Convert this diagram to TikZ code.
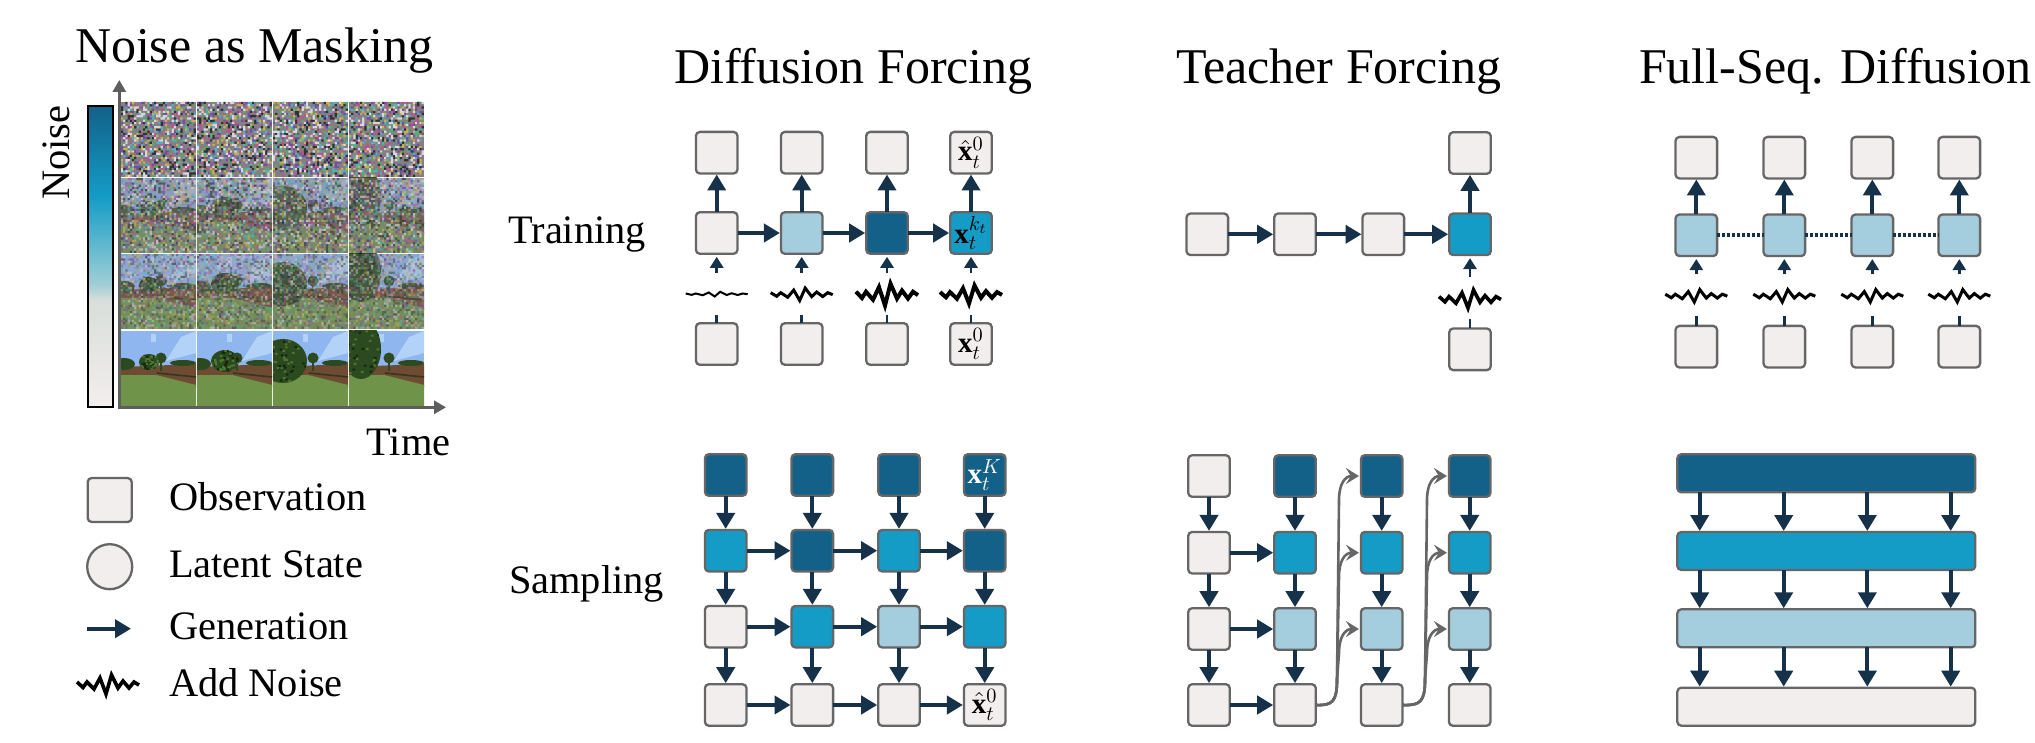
\documentclass[tikz,border=0pt]{standalone}
\usepackage{fix-cm}
\usepackage{fontspec}
\setmainfont{Liberation Serif}
\usetikzlibrary{arrows.meta}
\definecolor{creamfill}{HTML}{F3EEEE}
\definecolor{palefill}{HTML}{A4CDDE}
\definecolor{midfill}{HTML}{149CC6}
\definecolor{deepfill}{HTML}{136188}
\definecolor{navyline}{HTML}{16324B}
\definecolor{greyline}{HTML}{666666}
\definecolor{axisgrey}{HTML}{5E5E5E}
\definecolor{skyblue}{HTML}{8FB6EE}
\definecolor{cloudblue}{HTML}{B3D2F8}
\definecolor{grassgreen}{HTML}{6F9449}
\definecolor{barkbrown}{HTML}{6E4C33}
\definecolor{leafdark}{HTML}{2C4A20}
\definecolor{leaflight}{HTML}{4F7530}
\definecolor{leafblack}{HTML}{16240F}
\definecolor{noisegrey}{HTML}{857F85}
\definecolor{barfadea}{HTML}{D8DEDA}
\definecolor{barfadeb}{HTML}{A0CFD6}
\pgfdeclareverticalshading{noisebar}{100bp}{color(0bp)=(creamfill); color(25bp)=(creamfill);
  color(42.8bp)=(barfadea); color(45.3bp)=(barfadeb); color(59.9bp)=(midfill);
  color(75bp)=(deepfill); color(100bp)=(deepfill)}
\tikzset{
  cell/.style={rectangle,draw=greyline,line width=1.15pt,rounded corners=2pt,minimum size=20.8pt},
  obscell/.style={cell,fill=creamfill},
  palecell/.style={cell,fill=palefill},
  midcell/.style={cell,fill=midfill},
  deepcell/.style={cell,fill=deepfill},
  gen/.style={draw=navyline,line width=2pt,shorten >=0.5pt,-{Triangle[length=8pt,width=9pt]}},
  genthin/.style={draw=navyline,line width=1.4pt,shorten >=1.5pt,-{Triangle[length=5.5pt,width=6.5pt]}},
  genstub/.style={draw=navyline,line width=1.4pt},
  linkdots/.style={draw=navyline,line width=1.8pt,dash pattern=on 1.4pt off 1.1pt},
  hop/.style={draw=greyline,line width=1.3pt,shorten >=1pt,-{Stealth[length=6.5pt,width=8pt,inset=2.5pt]}},
  axis/.style={draw=axisgrey,line width=1.6pt,-{Triangle[length=6pt,width=6.5pt]}},
  noisegap/.style={rectangle,minimum width=31pt,minimum height=21pt},
  heading/.style={anchor=base west,font=\fontsize{25}{28}\selectfont},
  caption/.style={anchor=base west,font=\fontsize{20.2}{22}\selectfont},
  celltext/.style={font=\fontsize{14.5}{16}\selectfont},
}
\newcommand{\noisewig}[5]{
  \path (#2,#3) node[noisegap] (#1) {};
  \path[shift={(#2,#3)},yscale=#4,draw=black,line width=#5,miter limit=6] (-31,-2) -- (-25,3.5) --
    (-21,-2) -- (-14,5) -- (-8,-6) -- (-2,10) -- (3.5,-9) -- (10,4) -- (15,-3) -- (21,4) --
    (26,-2) -- (31,1);
}
\newcommand{\minecell}[6]{
  \begin{scope}[shift={(#1,#2)}]
    \clip (0,0) rectangle (75,75);
    \fill[skyblue] (0,0) rectangle (75,75);
    \fill[cloudblue] (45,30) -- (60,6) -- (75,0) -- (75,22) -- cycle;
    \fill[cloudblue] (30,3) rectangle (35,11);
    \fill[barkbrown] (0,36) -- (75,33) -- (75,56) -- (0,50) -- cycle;
    \draw[leafblack!60!barkbrown,line width=0.8pt] (36,42) -- (75,46);
    \fill[grassgreen] (0,44) -- (35,44) -- (75,54) -- (75,75) -- (0,75) -- cycle;
    \fill[leafdark] (62,32) ellipse [x radius=13,y radius=3];
    \fill[leafdark] (3,33) ellipse [x radius=11,y radius=6];
    \draw[leafdark,line width=0.8pt] (40,30) -- (40,40);
    \fill[leafdark] (40,27) circle [radius=5.5];
    \begin{scope}
      \clip (#3,#4) ellipse [x radius=#5,y radius=#6];
      \fill[leafdark] (-10,-10) rectangle (85,85);
      \foreach \leafc in {leafblack,leaflight}
        \fill[\leafc] \foreach \i in {1,...,30}{ ({#3+#5*rand},{#4+#6*rand}) rectangle +(2.5,2) };
    \end{scope}
  \end{scope}
}
\newcommand{\noisepatch}[4]{
  \fill[noisegrey,fill opacity=#4] (#1,#2) rectangle +(75,75);
  \foreach \nc in {C0508C,5FA860,4FB2BC,C8B050,7050A0,2C3434,DCD4DC}{
    \definecolor{grain}{HTML}{\nc}
    \fill[grain,fill opacity=#3] \foreach \i in {1,...,155}{ ({#1+2.2*random(0,33)},{#2+2.2*random(0,33)}) rectangle +(2.2,2.2) };
  }
}
\begin{document}
\begin{tikzpicture}[y=0.5pt, x=0.5pt, yscale=-1, inner sep=0pt, outer sep=0pt]
  \useasboundingbox[fill=white] (0,0) rectangle (2035,743);
  \pgfmathsetseed{4242}

  \foreach \cc/\tx/\ty/\rx/\ry in {0/28/31/10/8,1/28/30/14/11,2/10/30/24/22,3/12/18/20/30}{
    \pgfmathsetmacro\cellx{121+76*\cc}
    \noisepatch{\cellx}{102}{1}{1}
    \foreach \rr/\nop/\bop in {1/0.62/0.45,2/0.42/0.25}{
      \pgfmathsetmacro\celly{102+76*\rr}
      \minecell{\cellx}{\celly}{\tx}{\ty}{\rx}{\ry}
      \noisepatch{\cellx}{\celly}{\nop}{\bop}
    }
    \minecell{\cellx}{331}{\tx}{\ty}{\rx}{\ry}
  }
  \path[shading=noisebar,draw=black,line width=1pt] (88.3,105.7) rectangle (112.7,407);
  \coordinate (axorig) at (119.3,408);
  \coordinate (axtop) at (119.3,80);
  \coordinate (axleft) at (118,407.3);
  \coordinate (axright) at (446,407.3);
  \draw[axis] (axorig) -- (axtop);
  \draw[axis] (axleft) -- (axright);

  \path (75,62.7) node[heading] (titlemask) {Noise as Masking};
  \path (674,83.3) node[heading] (titledf) {Diffusion Forcing};
  \path (1176,83.3) node[heading] (titletf) {Teacher Forcing};
  \path (1639,83.3) node[heading] (titlefs) {Full-Seq. Diffusion};
  \path (69.3,200) node[caption,rotate=90] (labnoise) {Noise};
  \path (366.7,455) node[caption] (labtime) {Time};
  \path (508.3,243.3) node[caption] (labtrain) {Training};
  \path (509,593.3) node[caption] (labsample) {Sampling};

  \path (109.7,500) node[obscell,minimum size=22pt] (legobs) {};
  \path (109.7,566.7) node[obscell,circle,minimum size=22.5pt] (leglat) {};
  \coordinate (leggena) at (87,628.7);
  \coordinate (leggenb) at (131,628.7);
  \draw[gen,shorten >=0pt] (leggena) -- (leggenb);
  \noisewig{legwig}{108}{684}{1}{1.8pt}
  \path (169,510.7) node[caption] (labobs) {Observation};
  \path (169,577) node[caption] (lablat) {Latent State};
  \path (169,639) node[caption] (labgen) {Generation};
  \path (169,696.7) node[caption] (labadd) {Add Noise};

  \path (716.7,152.7) node[obscell] (dfo1) {};
  \path (801.7,152.7) node[obscell] (dfo2) {};
  \path (887,152.7) node[obscell] (dfo3) {};
  \path (971,152.7) node[obscell,celltext] (dfo4) {$\hat{\mathbf{x}}_t^0$};
  \path (716.7,233) node[obscell] (dfl1) {};
  \path (801.7,233) node[palecell] (dfl2) {};
  \path (887,233) node[deepcell] (dfl3) {};
  \path (971,233) node[midcell,celltext] (dfl4) {$\mathbf{x}_t^{k_t}$};
  \path (716.7,344) node[obscell] (dfb1) {};
  \path (801.7,344) node[obscell] (dfb2) {};
  \path (887,344) node[obscell] (dfb3) {};
  \path (971,344) node[obscell,celltext] (dfb4) {$\mathbf{x}_t^0$};
  \noisewig{dfn1}{716.7}{294}{0.25}{1pt}
  \noisewig{dfn2}{801.7}{294}{0.65}{1.5pt}
  \noisewig{dfn3}{887}{294}{1.15}{2pt}
  \noisewig{dfn4}{971}{294}{0.95}{2pt}
  \foreach \i in {1,...,4}{
    \draw[gen] (dfl\i) -- (dfo\i);
    \draw[genthin] (dfn\i) -- (dfl\i);
    \draw[genstub] (dfb\i) -- (dfn\i);
  }
  \draw[gen] (dfl1) -- (dfl2);
  \draw[gen] (dfl2) -- (dfl3);
  \draw[gen] (dfl3) -- (dfl4);

  \path (1470,153) node[obscell] (tfo4) {};
  \path (1207.3,234.3) node[obscell] (tfl1) {};
  \path (1295,234.3) node[obscell] (tfl2) {};
  \path (1383.3,234.3) node[obscell] (tfl3) {};
  \path (1470,234.3) node[midcell] (tfl4) {};
  \path (1470,349.3) node[obscell] (tfb4) {};
  \noisewig{tfn4}{1470}{298.5}{0.95}{1.8pt}
  \draw[gen] (tfl1) -- (tfl2);
  \draw[gen] (tfl2) -- (tfl3);
  \draw[gen] (tfl3) -- (tfl4);
  \draw[gen] (tfl4) -- (tfo4);
  \draw[genthin] (tfn4) -- (tfl4);
  \draw[genstub] (tfb4) -- (tfn4);

  \path (1696.3,157.7) node[obscell] (fso1) {};
  \path (1784.3,157.7) node[obscell] (fso2) {};
  \path (1872.3,157.7) node[obscell] (fso3) {};
  \path (1959.3,157.7) node[obscell] (fso4) {};
  \path (1696.3,235.3) node[palecell] (fsl1) {};
  \path (1784.3,235.3) node[palecell] (fsl2) {};
  \path (1872.3,235.3) node[palecell] (fsl3) {};
  \path (1959.3,235.3) node[palecell] (fsl4) {};
  \path (1696.3,346.7) node[obscell] (fsb1) {};
  \path (1784.3,346.7) node[obscell] (fsb2) {};
  \path (1872.3,346.7) node[obscell] (fsb3) {};
  \path (1959.3,346.7) node[obscell] (fsb4) {};
  \noisewig{fsn1}{1696.3}{295.5}{0.65}{1.5pt}
  \noisewig{fsn2}{1784.3}{295.5}{0.65}{1.5pt}
  \noisewig{fsn3}{1872.3}{295.5}{0.65}{1.5pt}
  \noisewig{fsn4}{1959.3}{295.5}{0.65}{1.5pt}
  \foreach \i in {1,...,4}{
    \draw[gen] (fsl\i) -- (fso\i);
    \draw[genthin] (fsn\i) -- (fsl\i);
    \draw[genstub] (fsb\i) -- (fsn\i);
  }
  \draw[linkdots] (fsl1) -- (fsl2);
  \draw[linkdots] (fsl2) -- (fsl3);
  \draw[linkdots] (fsl3) -- (fsl4);

  \path (725.7,475) node[deepcell] (dfs11) {};
  \path (812.3,475) node[deepcell] (dfs12) {};
  \path (899,475) node[deepcell] (dfs13) {};
  \path (984.7,475) node[deepcell,celltext,text=white] (dfs14) {$\mathbf{x}_t^K$};
  \path (725.7,550.7) node[midcell] (dfs21) {};
  \path (812.3,550.7) node[deepcell] (dfs22) {};
  \path (899,550.7) node[midcell] (dfs23) {};
  \path (984.7,550.7) node[deepcell] (dfs24) {};
  \path (725.7,626.7) node[obscell] (dfs31) {};
  \path (812.3,626.7) node[midcell] (dfs32) {};
  \path (899,626.7) node[palecell] (dfs33) {};
  \path (984.7,626.7) node[midcell] (dfs34) {};
  \path (725.7,705) node[obscell] (dfs41) {};
  \path (812.3,705) node[obscell] (dfs42) {};
  \path (899,705) node[obscell] (dfs43) {};
  \path (984.7,705) node[obscell,celltext] (dfs44) {$\hat{\mathbf{x}}_t^0$};
  \foreach \i in {1,...,4}{
    \draw[gen] (dfs1\i) -- (dfs2\i);
    \draw[gen] (dfs2\i) -- (dfs3\i);
    \draw[gen] (dfs3\i) -- (dfs4\i);
  }
  \foreach \r in {2,3,4}{
    \draw[gen] (dfs\r1) -- (dfs\r2);
    \draw[gen] (dfs\r2) -- (dfs\r3);
    \draw[gen] (dfs\r3) -- (dfs\r4);
  }

  \path (1209,476) node[obscell] (tfs11) {};
  \path (1295,476) node[deepcell] (tfs12) {};
  \path (1381.7,476) node[deepcell] (tfs13) {};
  \path (1469.7,476) node[deepcell] (tfs14) {};
  \path (1209,552.7) node[obscell] (tfs21) {};
  \path (1295,552.7) node[midcell] (tfs22) {};
  \path (1381.7,552.7) node[midcell] (tfs23) {};
  \path (1469.7,552.7) node[midcell] (tfs24) {};
  \path (1209,629) node[obscell] (tfs31) {};
  \path (1295,629) node[palecell] (tfs32) {};
  \path (1381.7,629) node[palecell] (tfs33) {};
  \path (1469.7,629) node[palecell] (tfs34) {};
  \path (1209,705) node[obscell] (tfs41) {};
  \path (1295,705) node[obscell] (tfs42) {};
  \path (1381.7,705) node[obscell] (tfs43) {};
  \path (1469.7,705) node[obscell] (tfs44) {};
  \foreach \i in {1,...,4}{
    \draw[gen] (tfs1\i) -- (tfs2\i);
    \draw[gen] (tfs2\i) -- (tfs3\i);
    \draw[gen] (tfs3\i) -- (tfs4\i);
  }
  \foreach \r in {2,3,4}
    \draw[gen] (tfs\r1) -- (tfs\r2);
  \foreach \r/\y in {1/476,2/552.7,3/629}{
    \draw[hop] (tfs42.east) .. controls (1332,705.7) and (1337,702) .. (1337,680) --
      (1339,{\y+24}) .. controls (1339,{\y+8}) and (1345,\y) .. (tfs\r3.west);
    \draw[hop] (tfs43.east) .. controls (1420,705.7) and (1425,702) .. (1425,680) --
      (1427,{\y+24}) .. controls (1427,{\y+8}) and (1433,\y) .. (tfs\r4.west);
  }

  \path (1826.3,473.3) node[deepcell,minimum width=149pt,minimum height=19pt] (fsbar1) {};
  \path (1826.3,551) node[midcell,minimum width=149pt,minimum height=19pt] (fsbar2) {};
  \path (1826.3,628.3) node[palecell,minimum width=149pt,minimum height=19pt] (fsbar3) {};
  \path (1826.3,706.7) node[obscell,minimum width=149pt,minimum height=19pt] (fsbar4) {};
  \coordinate (fsx1) at (1699.7,473);
  \coordinate (fsx2) at (1783.7,473);
  \coordinate (fsx3) at (1867.3,473);
  \coordinate (fsx4) at (1950.7,473);
  \foreach \i in {1,...,4}{
    \draw[gen] (fsx\i |- fsbar1.south) -- (fsx\i |- fsbar2.north);
    \draw[gen] (fsx\i |- fsbar2.south) -- (fsx\i |- fsbar3.north);
    \draw[gen] (fsx\i |- fsbar3.south) -- (fsx\i |- fsbar4.north);
  }
\end{tikzpicture}
\end{document}
